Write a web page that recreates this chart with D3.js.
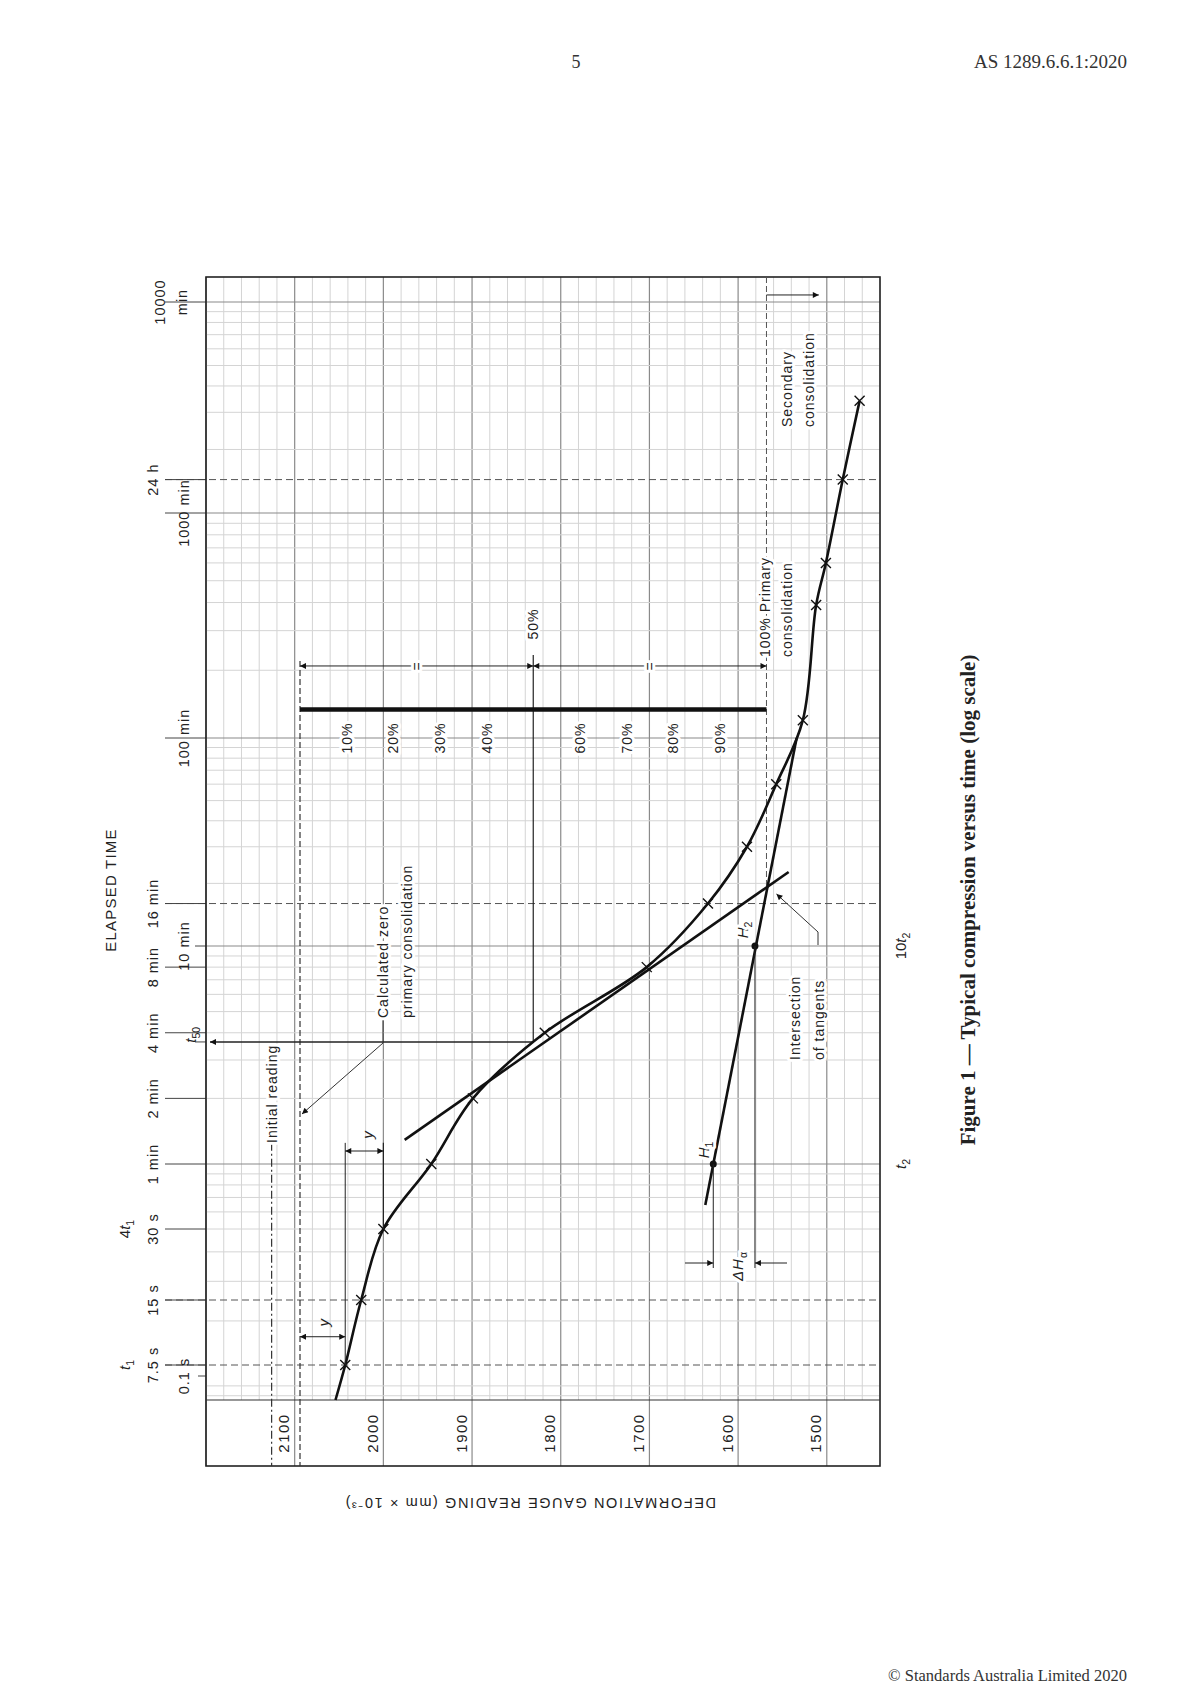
<!DOCTYPE html>
<html><head><meta charset="utf-8">
<script src="https://cdn.jsdelivr.net/npm/d3@7/dist/d3.min.js"></script>
<style>body{margin:0;background:#fff}svg{display:block}</style>
</head><body>
<svg id="c" width="1200" height="1698"></svg>
<script>
// ---- data ----
const times =    [0.125, 0.25, 0.5, 1, 2, 4, 8, 16, 30, 60, 120, 390, 600, 1440, 3400]; // minutes
const readings = [2043, 2025, 2000, 1946, 1899, 1818, 1703, 1634, 1590, 1557, 1527, 1512, 1501, 1482, 1463];
const curveStart = {t: 0.086, v: 2054};
const tangentSteep = [{t: 1.29, v: 1976}, {t: 22.7, v: 1543}];
const tangentSecondary = [{t: 0.646, v: 1637}, {t: 100, v: 1534}];
const H1 = {t: 1, v: 1628}, H2 = {t: 10, v: 1581};
const initialReading = 2126, zeroReading = 2094, fullReading = 1568, t100 = 19, t50 = 3.63;
const deformTicks = [2100, 2000, 1900, 1800, 1700, 1600, 1500];
const percentLabels = [10, 20, 30, 40, 60, 70, 80, 90];
const timeTicksOuter = [10000, 1440, 1000, 100, 16, 8, 4, 2, 1, 0.5, 0.25, 0.125];
const timeLabelsA = [["24 h",1440],["16 min",16],["8 min",8],["4 min",4],["2 min",2],["1 min",1],["30 s",0.5],["15 s",0.25],["7.5 s",0.125]];
const timeLabelsB = [["1000 min",1000],["100 min",100],["10 min",10]];
const dashedTimes = [1440, 16, 0.25, 0.125];

// ---- scales ----
const X = d3.scaleLinear().domain([2200, 1440]).range([206, 880]);
const Y = d3.scaleLog().domain([0.086, 0.125, 0.25, 0.5, 1, 10, 100, 1000, 10000, 13140])
  .range([1400, 1365, 1300, 1229, 1164, 946, 738, 513, 302, 277]);
const svg = d3.select("#c");
const SANS = "Liberation Sans, Arial, sans-serif", SERIF = "Liberation Serif, DejaVu Serif, serif";
const yTop = 277, gridBot = 1400, bot = 1466, L = 206, R = 880;

const defs = svg.append("defs");
defs.append("marker").attr("id","ah").attr("viewBox","0 0 10 10").attr("refX",10).attr("refY",5)
  .attr("markerWidth",9).attr("markerHeight",6).attr("orient","auto-start-reverse").attr("markerUnits","userSpaceOnUse")
  .append("path").attr("d","M0,0L10,5L0,10z").attr("fill","#111");

// ---- grid ----
const g = svg.append("g");
for (let v = 2200; v >= 1440; v -= 20) {
  const major = v % 100 === 0;
  g.append("line").attr("x1",X(v)).attr("x2",X(v)).attr("y1",yTop).attr("y2",major?bot:gridBot)
   .attr("stroke",major?"#8a8a8a":"#d4d4d4").attr("stroke-width",major?1.2:1);
}
const logMinor = [];
[0.01,0.1,1,10,100,1000,10000].forEach(d => { for (let k=1;k<10;k++) logMinor.push(+(d*k).toPrecision(6)); });
logMinor.filter(t => t>=0.086 && t<=13140).forEach(t => {
  const major = [1,10,100,1000,10000].includes(t);
  g.append("line").attr("x1",L).attr("x2",R).attr("y1",Y(t)).attr("y2",Y(t))
   .attr("stroke",major?"#8a8a8a":"#d4d4d4").attr("stroke-width",major?1.2:1);
});
dashedTimes.forEach(t => g.append("line").attr("x1",165).attr("x2",R).attr("y1",Y(t)).attr("y2",Y(t))
  .attr("stroke","#555").attr("stroke-dasharray","7,4"));
timeTicksOuter.forEach(t => g.append("line").attr("x1",165).attr("x2",L).attr("y1",Y(t)).attr("y2",Y(t)).attr("stroke","#444"));
[10, t50].forEach(t => g.append("line").attr("x1",195).attr("x2",L).attr("y1",Y(t)).attr("y2",Y(t)).attr("stroke","#444"));
g.append("line").attr("x1",198).attr("x2",L).attr("y1",1376).attr("y2",1376).attr("stroke","#444");
svg.append("rect").attr("x",L).attr("y",yTop).attr("width",R-L).attr("height",bot-yTop).attr("fill","none").attr("stroke","#222").attr("stroke-width",1.6);
svg.append("line").attr("x1",L).attr("x2",R).attr("y1",gridBot).attr("y2",gridBot).attr("stroke","#333").attr("stroke-width",1.2);

function rtext(x, y, s, opt={}) {
  const t = svg.append("text").attr("transform",`translate(${x},${y}) rotate(${opt.rot??-90})`)
    .attr("text-anchor",opt.anchor||"middle").attr("dominant-baseline","central")
    .attr("font-family",opt.family||SANS).attr("font-size",opt.size||14).attr("fill","#222")
    .attr("letter-spacing",opt.ls??1).attr("font-style",opt.italic?"italic":null).attr("font-weight",opt.bold?"bold":null);
  if (opt.bg) t.attr("paint-order","stroke").attr("stroke","#fff").attr("stroke-width",6).attr("stroke-linejoin","round");
  if (Array.isArray(s)) s.forEach(p => { const ts=t.append("tspan").text(p.t); if(p.sub) ts.attr("baseline-shift","sub").attr("font-size",(opt.size||14)*0.7); if(p.it) ts.attr("font-style","italic"); });
  else t.text(s);
  return t;
}

const ln = (x1,y1,x2,y2,o={}) => svg.append("line").attr("x1",x1).attr("y1",y1).attr("x2",x2).attr("y2",y2)
  .attr("stroke",o.c||"#222").attr("stroke-width",o.w||1.2).attr("stroke-dasharray",o.dash||null)
  .attr("marker-end",o.me?"url(#ah)":null).attr("marker-start",o.ms?"url(#ah)":null);
ln(X(initialReading),Y(1.25),X(initialReading),bot,{dash:"8,3,2,3",c:"#333"});
ln(X(zeroReading),Y(220),X(zeroReading),bot,{dash:"6,3",c:"#333"});
ln(X(fullReading),yTop,X(fullReading),Y(t100),{dash:"6,3",c:"#555",w:1});
const v50 = (zeroReading+fullReading)/2;
ln(X(v50),Y(234),X(v50),Y(t50),{w:1.2});
ln(X(v50),Y(t50),L+4,Y(t50),{me:true,w:1.4});
ln(X(zeroReading),Y(134),X(fullReading),Y(134),{w:4.5,c:"#111"});
ln(X(zeroReading),Y(209),X(v50),Y(209),{me:true,ms:true,w:1});
ln(X(v50),Y(209),X(fullReading),Y(209),{me:true,ms:true,w:1});
rtext((X(zeroReading)+X(v50))/2, Y(209), "=", {bg:true,size:14});
rtext((X(v50)+X(fullReading))/2, Y(209), "=", {bg:true,size:14});
rtext(X(v50), 624, "50%", {bg:true});
percentLabels.forEach(p => rtext(X(zeroReading - p*(zeroReading-fullReading)/100), Y(100), p+"%", {bg:true}));
ln(X(fullReading),Y(10800),X(1509),Y(10800),{me:true,w:1});
rtext(787, 427, "Secondary", {anchor:"start",bg:true});
rtext(809, 427, "consolidation", {anchor:"start",bg:true});
rtext(765, 657, "100% Primary", {anchor:"start",bg:true});
rtext(787, 657, "consolidation", {anchor:"start",bg:true});

const line = d3.line().x(d=>X(d.v)).y(d=>Y(d.t));
svg.append("path").attr("d",line(tangentSteep)).attr("fill","none").attr("stroke","#111").attr("stroke-width",2.6);
svg.append("path").attr("d",line(tangentSecondary)).attr("fill","none").attr("stroke","#111").attr("stroke-width",2.6);
const pts = [curveStart].concat(times.map((t,i)=>({t, v: readings[i]})));
const curveLine = d3.line().x(d=>X(d.v)).y(d=>Y(d.t)).curve(d3.curveCatmullRom);
svg.append("path").attr("d",curveLine(pts)).attr("fill","none").attr("stroke","#111").attr("stroke-width",2.6);
pts.slice(1).forEach(p => {
  const x=X(p.v), y=Y(p.t), s=5;
  svg.append("path").attr("d",`M${x-s},${y-s}L${x+s},${y+s}M${x-s},${y+s}L${x+s},${y-s}`).attr("stroke","#111").attr("stroke-width",1.4);
});
[H1,H2].forEach(h => svg.append("circle").attr("cx",X(h.v)).attr("cy",Y(h.t)).attr("r",3.5).attr("fill","#111"));
rtext(X(H1.v)-10, Y(H1.t)-14, [{t:"H",it:true},{t:"1",sub:true}], {size:15,ls:0,bg:true});
rtext(X(H2.v)-13, Y(H2.t)-16, [{t:"H",it:true},{t:"2",sub:true}], {size:15,ls:0,bg:true});
ln(X(H1.v),Y(H1.t),X(H1.v),1268,{w:1});
ln(X(H2.v),Y(H2.t),X(H2.v),1268,{w:1});
ln(685,1263,X(H1.v),1263,{me:true,w:1});
ln(787,1263,X(H2.v),1263,{me:true,w:1});
rtext(737, 1266, [{t:"ΔH",it:true},{t:"α",sub:true}], {size:15,ls:1,bg:true});
svg.append("path").attr("d",`M818,945L818,932L${X(fullReading)+10},${Y(t100)+6}`).attr("fill","none").attr("stroke","#333").attr("stroke-width",1).attr("marker-end","url(#ah)");
rtext(795, 1060, "Intersection", {anchor:"start",bg:true});
rtext(819, 1060, "of tangents", {anchor:"start",bg:true});
svg.append("path").attr("d",`M383,1020L383,1043L${X(zeroReading)+2},1114`).attr("fill","none").attr("stroke","#333").attr("stroke-width",1).attr("marker-end","url(#ah)");
rtext(383, 1018, "Calculated zero", {anchor:"start",bg:true});
rtext(407, 1018, "primary consolidation", {anchor:"start",bg:true});
rtext(272, 1143, "Initial reading", {anchor:"start",bg:true});
ln(X(readings[0]),Y(0.125),X(readings[0]),Y(1.25),{w:1});
ln(X(2000),Y(0.5),X(2000),Y(1.25),{w:1.2});
ln(X(zeroReading),Y(0.169),X(readings[0]),Y(0.169),{me:true,ms:true,w:1});
ln(X(readings[0]),Y(1.147),X(2000),Y(1.147),{me:true,ms:true,w:1});
rtext(323, Y(0.169)-14, "y", {italic:true,size:15,ls:0});
rtext(367, Y(1.147)-16, "y", {italic:true,size:15,ls:0});

deformTicks.forEach(v => rtext(X(v)-11, 1433, String(v), {size:15,ls:1.5}));
rtext(530, 1503, "DEFORMATION GAUGE READING (mm × 10⁻³)", {rot:180,size:14.5,ls:1.6});
rtext(110, 890, "ELAPSED TIME", {size:15,ls:1.2});
timeLabelsA.forEach(([s,t]) => rtext(153, Y(t), s, {size:14.5}));
timeLabelsB.forEach(([s,t]) => rtext(184, Y(t), s, {size:14.5}));
rtext(160, Y(10000), "10000", {size:14.5});
rtext(182, Y(10000), "min", {size:14.5});
rtext(184, 1376, "0.1 s", {size:14.5});
rtext(190, Y(4)+2, [{t:"t",it:true},{t:"50",sub:true}], {size:15,ls:0});
rtext(124, Y(0.5), [{t:"4"},{t:"t",it:true},{t:"1",sub:true}], {size:15,ls:0});
rtext(124, Y(0.125), [{t:"t",it:true},{t:"1",sub:true}], {size:15,ls:0});
rtext(900, Y(10), [{t:"10"},{t:"t",it:true},{t:"2",sub:true}], {size:15,ls:0});
rtext(900, Y(1), [{t:"t",it:true},{t:"2",sub:true}], {size:15,ls:0});

svg.append("text").attr("x",576).attr("y",68).attr("text-anchor","middle").attr("font-family",SERIF).attr("font-size",18).attr("fill","#333").text("5");
svg.append("text").attr("x",1127).attr("y",68).attr("text-anchor","end").attr("font-family",SERIF).attr("font-size",19).attr("fill","#333").text("AS 1289.6.6.1:2020");
rtext(968, 900, "Figure 1 — Typical compression versus time (log scale)", {family:SERIF,size:21,bold:true,ls:0});
svg.append("text").attr("x",1127).attr("y",1681).attr("text-anchor","end").attr("font-family",SERIF).attr("font-size",16.5).attr("fill","#333").text("© Standards Australia Limited 2020");
</script>
</body></html>
